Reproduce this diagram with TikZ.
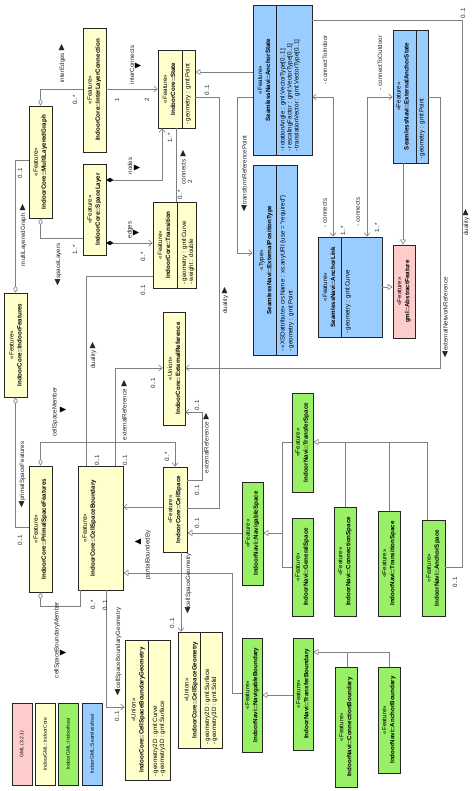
\documentclass[tikz,border=0pt]{standalone}
\usepackage{fontspec}
\setmainfont{Liberation Sans}
\usepackage{amssymb}
\usetikzlibrary{arrows.meta,fit}

\definecolor{corefill}{HTML}{FFFFCC}
\definecolor{navifill}{HTML}{99F066}
\definecolor{seamfill}{HTML}{99CCFF}
\definecolor{gmlfill}{HTML}{FFCCCC}
\definecolor{linkgray}{HTML}{7F7F7F}

\newcommand{\stereo}[1]{\textless\textless #1\textgreater\textgreater}
\newcommand{\dirR}{{\fontsize{10}{10}\selectfont$\blacktriangleright$}}
\newcommand{\dirL}{{\fontsize{10}{10}\selectfont$\blacktriangleleft$}}

\begin{document}
\begin{tikzpicture}[x=1pt, y=-1pt,
    box/.style={draw=black!85, line width=0.8pt, inner sep=0pt, rectangle},
    core/.style={box, fill=corefill},
    navi/.style={box, fill=navifill},
    seam/.style={box, fill=seamfill},
    gml/.style={box, fill=gmlfill},
    txt/.style={rotate=90, inner sep=0pt, align=center, font=\fontsize{6.2}{8}\selectfont},
    attr/.style={rotate=90, inner sep=0pt, anchor=west, font=\fontsize{6.2}{8}\selectfont},
    lab/.style={rotate=90, inner sep=0pt, font=\fontsize{6.2}{8}\selectfont, text=black!85},
    dirtip/.style={inner sep=0pt, font=\fontsize{6.2}{8}\selectfont},
    link/.style={draw=linkgray, line width=0.6pt},
    nav/.style={link, -{Straight Barb[length=3.5pt, width=6pt]}},
    both/.style={link, {Straight Barb[length=3.5pt, width=6pt]}-{Straight Barb[length=3.5pt, width=6pt]}},
    gen/.style={link, -{Triangle[open, length=5pt, width=6pt, fill=white]}},
    agg/.style={link, {Diamond[open, length=7pt, width=4.5pt, fill=white]}-},
    aggnav/.style={link, {Diamond[open, length=7pt, width=4.5pt, fill=white]}-{Straight Barb[length=3.5pt, width=6pt]}},
    comp/.style={link, {Diamond[length=7pt, width=4.5pt, color=black]}-{Straight Barb[length=3.5pt, width=6pt]}},
]
\useasboundingbox[fill=white] (0,0) rectangle (474,791);

% IndoorCore classes
\node[core, fit={(83,28) (106,152)}] (interlayer) {};
\node[txt] (interlayer-t) at (94.5,90) {\stereo{Feature}\\\textbf{IndoorCore::InterLayerConnection}};
\node[core, fit={(29,106) (52,218)}] (multigraph) {};
\node[txt] (multigraph-t) at (40.5,162) {\stereo{Feature}\\\textbf{IndoorCore::MultiLayeredGraph}};
\node[core, fit={(158,50) (195,128)}] (state) {};
\node[txt] (state-t) at (169,89) {\stereo{Feature}\\\textbf{IndoorCore::State}};
\draw[box] (182,50) -- (182,128);
\node[attr] (state-a) at (188,125) {- geometry : gml:Point};
\node[core, fit={(83,164) (106,255)}] (spacelayer) {};
\node[txt] (spacelayer-t) at (94.5,209.5) {\stereo{Feature}\\\textbf{IndoorCore::SpaceLayer}};
\node[core, fit={(153,202) (196,288)}] (transition) {};
\node[txt] (transition-t) at (164,245) {\stereo{Feature}\\\textbf{IndoorCore::Transition}};
\draw[box] (177,202) -- (177,288);
\node[attr] (transition-a1) at (184.5,285) {- geometry : gml:Curve};
\node[attr] (transition-a2) at (191.5,285) {- weight : double};
\node[core, fit={(4,293) (27,397)}] (indoorfeat) {};
\node[txt] (indoorfeat-t) at (15.5,345) {\stereo{Feature}\\\textbf{IndoorCore::IndoorFeatures}};
\node[core, fit={(163,312) (185,425)}] (extref) {};
\node[txt] (extref-t) at (174,368.5) {\stereo{Union}\\\textbf{IndoorCore::ExternalReference}};
\node[core, fit={(29,466) (52,592)}] (primal) {};
\node[txt] (primal-t) at (40.5,529) {\stereo{Feature}\\\textbf{IndoorCore::PrimalSpaceFeatures}};
\node[core, fit={(78,466) (123,590)}] (csboundary) {};
\node[txt] (csboundary-t) at (89.5,528) {\stereo{Feature}\\\textbf{IndoorCore::CellSpaceBoundary}};
\node[core, fit={(163,467) (187,552)}] (cellspace) {};
\node[txt] (cellspace-t) at (175,509.5) {\stereo{Feature}\\\textbf{IndoorCore::CellSpace}};
\node[core, fit={(178,632) (222,748)}] (csgeom) {};
\node[txt] (csgeom-t) at (191,690) {\stereo{Union}\\\textbf{IndoorCore::CellSpaceGeometry}};
\draw[box] (200,632) -- (200,748);
\node[attr] (csgeom-a1) at (207.5,745) {- geometry2D : gml:Surface};
\node[attr] (csgeom-a2) at (214.5,745) {- geometry3D : gml:Solid};
\node[core, fit={(125,640) (170,780)}] (csbgeom) {};
\node[txt] (csbgeom-t) at (138,710) {\stereo{Union}\\\textbf{IndoorCore::CellSpaceBoundaryGeometry}};
\draw[box] (148,640) -- (148,780);
\node[attr] (csbgeom-a1) at (155.5,777) {- geometry2D : gml:Curve};
\node[attr] (csbgeom-a2) at (162.5,777) {- geometry3D : gml:Surface};

% IndoorNavi classes
\node[navi, fit={(242,482) (263,585)}] (navspace) {};
\node[txt] (navspace-t) at (252.5,533.5) {\stereo{Feature}\\\textbf{IndoorNavi::NavigableSpace}};
\node[navi, fit={(292,393) (313,492)}] (transferspace) {};
\node[txt] (transferspace-t) at (302.5,442.5) {\stereo{Feature}\\\textbf{IndoorNavi::TransferSpace}};
\node[navi, fit={(292,518) (313,616)}] (generalspace) {};
\node[txt] (generalspace-t) at (302.5,567) {\stereo{Feature}\\\textbf{IndoorNavi::GeneralSpace}};
\node[navi, fit={(334,507) (356,616)}] (connspace) {};
\node[txt] (connspace-t) at (345,561.5) {\stereo{Feature}\\\textbf{IndoorNavi::ConnectionSpace}};
\node[navi, fit={(378,511) (400,616)}] (transitionspace) {};
\node[txt] (transitionspace-t) at (389,563.5) {\stereo{Feature}\\\textbf{IndoorNavi::TransitionSpace}};
\node[navi, fit={(422,520) (445,616)}] (anchorspace) {};
\node[txt] (anchorspace-t) at (433.5,568) {\stereo{Feature}\\\textbf{IndoorNavi::AnchorSpace}};
\node[navi, fit={(242,638) (262,752)}] (navboundary) {};
\node[txt] (navboundary-t) at (252,695) {\stereo{Feature}\\\textbf{IndoorNavi::NavigableBoundary}};
\node[navi, fit={(293,638) (313,750)}] (transferboundary) {};
\node[txt] (transferboundary-t) at (303,694) {\stereo{Feature}\\\textbf{IndoorNavi::TransferBoundary}};
\node[navi, fit={(335,667) (357,787)}] (connboundary) {};
\node[txt] (connboundary-t) at (346,727) {\stereo{Feature}\\\textbf{IndoorNavi::ConnectionBoundary}};
\node[navi, fit={(378,667) (400,773)}] (anchorboundary) {};
\node[txt] (anchorboundary-t) at (389,720) {\stereo{Feature}\\\textbf{IndoorNavi::AnchorBoundary}};

% SeamlessNavi and GML classes
\node[seam, fit={(253,5) (312,155)}] (anchorstate) {};
\node[txt] (anchorstate-t) at (264,80) {\stereo{Feature}\\\textbf{SeamlessNavi::AnchorState}};
\draw[box] (276,5) -- (276,155);
\node[attr] (anchorstate-a1) at (283,152) {- rotationAngle : gml:VectorType[0..1]};
\node[attr] (anchorstate-a2) at (290,152) {- rescalingFactor : gml:VectorType[0..1]};
\node[attr] (anchorstate-a3) at (297,152) {- translationVector : gml:VectorType[0..1]};
\node[seam, fit={(253,165) (297,355)}] (extpostype) {};
\node[txt] (extpostype-t) at (266,260) {\stereo{Type}\\\textbf{SeamlessNavi::ExternalPositionType}};
\draw[box] (276,165) -- (276,355);
\node[attr] (extpostype-a1) at (283,352) {- \stereo{XSDattribute} crsName : xs:anyURI \{use = "required"\}};
\node[attr] (extpostype-a2) at (291,352) {- geometry : gml:Point};
\node[seam, fit={(393,30) (428,163)}] (extanchor) {};
\node[txt] (extanchor-t) at (402.5,96.5) {\stereo{Feature}\\\textbf{SeamlessNavi::ExternalAnchorState}};
\draw[box] (416,30) -- (416,163);
\node[attr] (extanchor-a) at (422,160) {- geometry : gml:Point};
\node[seam, fit={(318,237) (382,337)}] (anchorlink) {};
\node[txt] (anchorlink-t) at (329,287) {\stereo{Feature}\\\textbf{SeamlessNavi::AnchorLink}};
\draw[box] (341,237) -- (341,337);
\node[attr] (anchorlink-a) at (348,334) {- geometry : gml:Curve};
\node[gml, fit={(393,245) (415,338)}] (abstractfeat) {};
\node[txt] (abstractfeat-t) at (404,291.5) {\stereo{Feature}\\\textbf{gml::AbstractFeature}};

% legend
\node[gml, fit={(12,703) (32,785)}] (leg-gml) {};
\node[txt, font=\fontsize{5}{6}\selectfont] (leg-gml-t) at (leg-gml) {GML (3.2.1)};
\node[core, fit={(35,703) (55,785)}] (leg-core) {};
\node[txt, font=\fontsize{5}{6}\selectfont] (leg-core-t) at (leg-core) {IndoorGML::IndoorCore};
\node[navi, fit={(58,703) (78,785)}] (leg-navi) {};
\node[txt, font=\fontsize{5}{6}\selectfont] (leg-navi-t) at (leg-navi) {IndoorGML::IndoorNavi};
\node[seam, fit={(82,703) (102,785)}] (leg-seam) {};
\node[txt, font=\fontsize{5}{6}\selectfont] (leg-seam-t) at (leg-seam) {IndoorGML::SeamlessNavi};

% associations
\draw[agg] (multigraph.north) |- (interlayer.west |- 0,89);
\draw[nav] (interlayer.east |- 0,89) -- (state.west |- 0,89);
\draw[agg] (indoorfeat.north) |- (multigraph.west |- 0,160);
\draw[agg] (multigraph.south) |- (spacelayer.west |- 0,238);
\draw[comp] (spacelayer.east |- 0,180) -| (state.south -| 162,0);
\draw[comp] (spacelayer.east |- 0,243) -- (transition.west |- 0,243);
\draw[link] (state.south -| 176,0) -- (transition.north -| 176,0);
\draw[link] (transition.west |- 0,276) -| (csboundary.north -| 86,0);
\draw[link] (state.east |- 0,97) -| (219,508) -- (cellspace.east |- 0,508);
\draw[nav] (csboundary.north -| 115,0) |- (extref.west |- 0,368);
\draw[nav] (extanchor.east |- 0,97) -| (440,368) -- (extref.east |- 0,368);
\draw[nav] (cellspace.east |- 0,480) -| (202,412) -- (extref.east |- 0,412);
\draw[agg] (indoorfeat.south) |- (primal.west |- 0,527);
\draw[aggnav] (primal.north) |- (175,442) -- (cellspace.north -| 175,0);
\draw[nav] (cellspace.west |- 0,507) -- (csboundary.east |- 0,507);
\draw[agg] (primal.south) |- (80,606) -- (csboundary.south -| 80,0);
\draw[nav] (csboundary.south -| 106,0) |- (csbgeom.west |- 0,707);
\draw[nav] (cellspace.south -| 181,0) -- (csgeom.north -| 181,0);
\draw[nav] (anchorstate.west |- 0,97) -| (237,253) -- (extpostype.west |- 0,253);
\draw[both] (anchorstate.east |- 0,97) -| (anchorlink.north -| 333,0);
\draw[both] (extanchor.west |- 0,97) -| (anchorlink.north -| 367,0);
\draw[link] (anchorstate.east |- 0,20) -| (462,567) -- (anchorspace.east |- 0,567);

% generalizations
\draw[gen] (anchorstate.west |- 0,72) -- (state.east |- 0,72);
\draw[gen] (extanchor.south -| 403,0) -- (abstractfeat.north -| 403,0);
\draw[gen] (anchorlink.east |- 0,287) -- (abstractfeat.west |- 0,287);
\draw[gen] (navspace.west |- 0,533) -- (cellspace.east |- 0,533);
\draw[gen] (transferspace.west |- 0,442) -| (282,533) -- (navspace.east |- 0,533);
\draw[link] (generalspace.west |- 0,567) -| (282,533);
\draw[gen] (anchorspace.north -| 427,0) |- (transferspace.east |- 0,442);
\draw[link] (connspace.north -| 345,0) -- (345,442);
\draw[link] (transitionspace.north -| 389,0) -- (389,442);
\draw[gen] (navboundary.west |- 0,693) -| (232,573) -- (csboundary.east |- 0,573);
\draw[gen] (transferboundary.west |- 0,695) -- (navboundary.east |- 0,695);
\draw[gen] (anchorboundary.north -| 389,0) |- (transferboundary.east |- 0,652);
\draw[link] (connboundary.north -| 347,0) -- (347,652);

% role names and multiplicities
\node[lab] (l-interedges) at (62,63) {interEdges \dirR};
\node[lab] (m-interedges) at (75,100) {0..*};
\node[lab] (l-interconn) at (132,65) {interConnects};
\node[dirtip] (d-interconn) at (138,66) {\dirR};
\node[lab] (m-interconn1) at (117,100) {1};
\node[lab] (m-interconn2) at (147,100) {2};
\node[lab] (l-multigraph) at (23,235) {multiLayeredGraph \dirR};
\node[lab] (m-multigraph) at (20,173) {0..1};
\node[lab] (l-spacelayers) at (58,265) {\dirL spaceLayers};
\node[lab] (m-spacelayers) at (75,250) {1..*};
\node[lab] (l-nodes) at (130,166) {nodes};
\node[dirtip] (d-nodes) at (137,168) {\dirR};
\node[lab] (m-nodes) at (170,138) {1..*};
\node[lab] (l-edges) at (130,230) {edges};
\node[dirtip] (d-edges) at (136,233) {\dirR};
\node[lab] (m-edges) at (143,257) {0..*};
\node[lab] (l-connects) at (183,167) {connects \dirR};
\node[lab] (m-connects1) at (190,182) {2};
\node[lab] (m-connects2) at (180,195) {0..*};
\node[lab] (l-duality1) at (93,355) {duality \dirR};
\node[lab] (m-duality1a) at (143,290) {0..1};
\node[lab] (m-duality1b) at (97,460) {0..1};
\node[lab] (l-duality2) at (225,300) {duality \dirR};
\node[lab] (m-duality2a) at (207,90) {0..1};
\node[lab] (m-duality2b) at (197,523) {0..1};
\node[lab] (l-extref1) at (124,410) {externalReference \dirR};
\node[lab] (m-extref1a) at (125,460) {0..1};
\node[lab] (m-extref1b) at (153,383) {0..1};
\node[lab] (l-extref2) at (206,443) {externalReference \dirR};
\node[lab] (m-extref2a) at (197,405) {0..1};
\node[lab] (m-extref2b) at (197,490) {0..1};
\node[lab] (l-primal) at (22,475) {\dirL primalSpaceFeatures};
\node[lab] (m-primal) at (20,540) {0..1};
\node[lab] (l-csmember) at (55,412) {cellSpaceMember};
\node[dirtip] (d-csmember) at (63,410) {\dirR};
\node[lab] (m-csmember) at (167,457) {0..*};
\node[lab] (l-partial) at (148,555) {partialBoundedBy};
\node[dirtip] (d-partial) at (138,542) {\dirL};
\node[lab] (l-csbmember) at (57,640) {cellSpaceBoundaryMember};
\node[dirtip] (d-csbmember) at (63,653) {\dirR};
\node[lab] (m-csbmember) at (93,605) {0..*};
\node[lab] (m-csbgeom1) at (105,605) {0..1};
\node[lab] (l-csbgeom) at (118,652) {\dirL cellSpaceBoundaryGeometry};
\node[lab] (m-csbgeom2) at (117,716) {0..1};
\node[lab] (l-csgeom) at (188,584) {\dirL cellSpaceGeometry};
\node[lab] (m-csgeom) at (172,623) {0..1};
\node[lab] (l-transform) at (244,174) {\dirL transformReferencePoint};
\node[lab] (l-toindoor) at (325,60) {- connectToIndoor};
\node[lab] (l-tooutdoor) at (380,63) {- connectToOutdoor};
\node[lab] (l-connects-a) at (325,213) {- connects};
\node[lab] (m-connects-a) at (343,231) {1..*};
\node[lab] (l-connects-b) at (358,212) {- connects};
\node[lab] (m-connects-b) at (377,228) {1..*};
\node[lab] (l-extnet) at (445,318) {\dirL externalNetworkReference};
\node[lab] (l-duality3) at (466,222) {duality \dirR};
\node[lab] (m-duality3a) at (463,13) {0..1};
\node[lab] (m-duality3b) at (455,582) {0..1};
\end{tikzpicture}
\end{document}
